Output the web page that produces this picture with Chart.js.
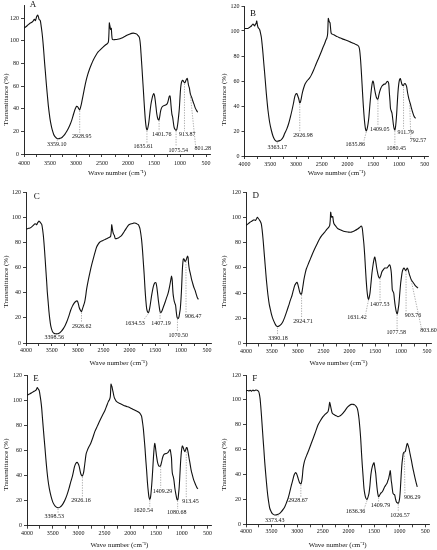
<!DOCTYPE html>
<html lang="en">
<head>
<meta charset="UTF-8">
<title>FTIR spectra A-F</title>
<script src="https://cdn.jsdelivr.net/npm/chart.js"></script>
<style>
  body { margin: 0; background: #fff; }
  #wrap { position: relative; width: 437px; height: 550px; overflow: hidden; }
  #wrap canvas { position: absolute; }
</style>
</head>
<body>
<div id="wrap"></div>
<script>
// wave numbers (cm-1) and transmittance (%)
const waveA = [4000,3950,3910,3885,3850,3830,3810,3800,3782,3768,3756,3737,3722,3712,3698,3686,3667,3653,3641,3628,3615,3603,3590,3577,3564,3548,3532,3516,3500,3478,3455,3430,3404,3375,3359,3340,3310,3276,3245,3212,3180,3148,3115,3083,3055,3026,3005,2987,2970,2955,2940,2929,2915,2897,2878,2859,2835,2808,2775,2744,2705,2667,2620,2571,2520,2474,2435,2397,2378,2368,2359,2352,2346,2339,2333,2327,2321,2312,2301,2275,2250,2200,2154,2105,2058,2010,1962,1930,1897,1865,1833,1810,1795,1782,1770,1760,1750,1740,1730,1718,1705,1692,1680,1668,1656,1645,1636,1625,1612,1598,1580,1560,1540,1520,1505,1492,1478,1463,1448,1432,1418,1404,1390,1375,1360,1345,1320,1290,1260,1240,1222,1205,1192,1182,1173,1165,1155,1141,1128,1115,1100,1085,1070,1058,1045,1030,1013,1000,988,975,962,948,930,915,904,890,875,860,848,835,821,805,790,775,755,731,705,679,660];
const transA = [111,112.8,114.5,115.4,116.3,117,118.5,119,117.7,119.5,121.4,122.6,121,119,118.3,117.7,112,107,101.8,95,87.4,80,73,65.5,58.5,50.5,42.7,36.5,31,25.5,21,17.5,15.3,14,13.5,13.5,13.8,14.4,15.8,17.6,19.8,22.5,25.8,29.7,34,38.4,40.8,42.1,41.8,40.7,39.5,39,40.8,44,48.5,52.8,58.5,64.3,70,74.4,79,83,87,90.3,92.6,94.6,96.2,97.5,98.8,105,115.7,114,112.8,110.5,110,110.8,111,105,101.2,100.9,101,101.3,101.8,102.7,103.8,105,106,106.5,106.7,106.4,105.8,104.8,104,103,100,95.5,89,82,75,66,57,47,38.5,31,25.5,22.3,21.3,22,24.5,28.5,36,43.5,48.5,52,53.4,52,48,42,36,32,30.3,30,33,37.5,40,41.5,42.5,43,43.7,45,48,51,51.3,48,43,39,35,32.4,28,24,22,21.2,21,22.5,26,32,40,50,58,62.5,64.5,65,64,63,62.9,64.5,66,66.7,64,60.5,58.5,54,51.5,50,47,44,40.5,38.3,36.8];
const peaksA = ['3359.10','2928.95','1635.61','1401.76','1075.54','913.87','801.28'];
const labelWnA = [3371,2890,1706,1352,1033,860,563];
const labelTA = [8.7,15.7,7,17.1,3.5,17.1,5];

const waveB = [4000,3960,3932,3900,3867,3835,3815,3802,3790,3775,3763,3750,3738,3720,3705,3690,3673,3657,3641,3625,3608,3592,3576,3560,3544,3512,3479,3446,3414,3390,3363,3330,3300,3285,3250,3220,3180,3142,3110,3078,3050,3025,3005,2986,2965,2948,2935,2927,2915,2900,2882,2864,2840,2819,2790,2767,2735,2703,2655,2606,2555,2509,2475,2443,2420,2400,2385,2373,2362,2353,2345,2338,2326,2314,2282,2240,2200,2150,2100,2050,2000,1950,1900,1850,1800,1780,1765,1750,1735,1718,1700,1682,1665,1650,1636,1620,1600,1585,1565,1545,1525,1508,1495,1480,1460,1440,1420,1409,1395,1375,1355,1330,1310,1285,1266,1250,1233,1215,1200,1188,1175,1165,1150,1135,1120,1105,1092,1080,1065,1050,1035,1020,1005,990,975,960,945,930,912,897,883,868,852,835,818,800,780,760,735,710,690,675];
const transB = [102,102,102,103,104,105.6,104.5,104,105.3,106,108,105,103,102,101,98.5,95,89,82,74,66,58,50,43,36.6,27,20.6,15.8,13,12,11.8,12.1,12.6,13,15,18,21.5,26,31,36.6,42,47.3,49.4,50,48,46,43.5,42.5,43,45.5,49.5,52.6,55.8,58,59.8,61,62.5,64.7,69,74,78.8,83.4,87,90,92.6,94.5,98,110,108.5,107.4,107,106.3,101,98,97.3,96.4,95.5,94.6,93.7,93,92.2,91.3,90.4,89.5,88.5,87.5,85,79,70,58,45,34,26,21.5,20,21.5,26,31,41,50,57,60,59,55,50.5,47,45.5,45.5,48,51.5,54,56,56.8,57.5,57.6,58.5,59.5,59.5,58,51,44,38,36,34,29,24,21.5,20.8,24,31,41,51,57.5,61,62,60,57.6,56.6,56.5,57.8,58,57.2,55.5,51,47.5,44.5,41.8,38.5,35,32,30.6,30.2];
const peaksB = ['3363.17','2926.98','1635.86','1409.05','1080.45','911.79','792.57'];
const labelWnB = [3363,2864,1849,1375,1052,870,630];
const labelTB = [6.6,16.8,9.6,21,6.1,19,12.2];

const waveC = [4000,3960,3923,3890,3859,3840,3826,3810,3794,3774,3760,3749,3735,3716,3700,3691,3678,3665,3652,3639,3626,3613,3600,3588,3570,3555,3540,3523,3505,3484,3460,3439,3420,3398,3370,3342,3310,3278,3245,3213,3175,3136,3100,3072,3040,3008,2990,2969,2945,2926,2905,2885,2865,2845,2826,2795,2762,2730,2698,2665,2634,2600,2569,2535,2505,2470,2440,2405,2376,2362,2350,2343,2337,2330,2318,2305,2292,2273,2245,2215,2185,2150,2120,2086,2055,2021,1990,1957,1925,1892,1860,1828,1812,1796,1780,1763,1747,1731,1715,1698,1682,1666,1650,1634,1618,1600,1584,1565,1545,1525,1505,1487,1470,1455,1440,1423,1407,1390,1370,1352,1330,1306,1285,1261,1240,1223,1200,1185,1172,1162,1155,1145,1132,1120,1107,1094,1081,1070,1054,1040,1028,1016,1005,995,984,977,968,958,948,935,925,906,890,876,865,855,840,820,800,780,755,731,705,685,665];
const transC = [90.5,91,91.4,92.3,93.5,94.3,94.8,94.5,94,95.6,96.3,97,96.4,95.4,94.5,93.5,90,85.6,79.5,72.3,64.5,56.4,48.5,40.5,32,24.6,19,14,11,8.7,7.8,7.4,7.3,7.3,7.6,8.2,9.6,11.4,13.8,16.7,21,26,29.5,31.5,33,33.4,31.5,28,25.8,25,27.5,30,32.6,37.5,43.2,50,56.4,62,67,72,76.3,78.8,80.3,81,81.6,82.3,82.9,83.6,84.2,85,89,94,93,91,88.2,86.5,85.6,83,83,83.4,84.3,85.6,87.3,89.5,91.5,93.5,94.3,94.8,95.2,95.4,94.8,94,92.8,90.9,87,81.6,74,64.4,55,43,34,27.3,24.8,24.1,25.5,29.5,34,39,43.5,46.5,48,48,44.5,39.5,34,28.9,25,24.1,25.5,27.6,30,32.8,35.5,38.2,41.5,44.8,50,53.3,50,43,39,36,33,31.5,30,25,21,19.8,19.6,21,24,27,33,40,50,57,63,66.5,67,66,64.8,65.5,67.5,69,68,63,58.5,55,51,48,44.5,42,38.5,36,34.7];
const peaksC = ['3398.56','2926.62','1634.53','1407.19','1070.50','906.47'];
const labelWnC = [3453,2923,1892,1389,1054,764];
const labelTC = [4.2,13.5,15.7,15.7,6.4,21.5];

const waveD = [4000,3961,3930,3897,3870,3845,3820,3800,3781,3760,3735,3720,3704,3688,3671,3655,3639,3623,3607,3590,3574,3550,3523,3500,3478,3445,3414,3390,3360,3317,3285,3252,3215,3175,3140,3110,3085,3059,3035,3014,2995,2975,2955,2935,2924,2910,2895,2878,2855,2834,2800,2768,2720,2671,2620,2575,2525,2478,2445,2414,2395,2381,2370,2362,2352,2343,2333,2323,2310,2298,2260,2221,2150,2091,2030,1963,1900,1834,1800,1770,1752,1737,1720,1704,1690,1675,1660,1645,1631,1617,1600,1582,1563,1540,1520,1508,1495,1480,1466,1440,1414,1395,1369,1340,1317,1295,1273,1250,1221,1205,1189,1178,1170,1157,1143,1128,1112,1095,1077,1065,1050,1041,1025,1008,992,977,960,944,928,911,900,880,865,847,825,803,770,737,705,673];
const transD = [93.5,94.8,95.8,96.7,97.4,98,97.4,98.5,99.9,99,97.5,96.5,94.8,90,83,75,67,59,51,44,38,31,26,22,19.3,16.2,14,13.5,13.9,15.4,17.5,20.7,25,30,34.5,38,42,45.8,47.6,48.5,46.5,43,40,39,39.3,42.5,46.5,51,55.5,59,62.5,65.7,70.5,75,79.3,83,86,88.2,90,91.4,92.4,93.5,98,104,101.5,100,100.5,100.6,97,94.8,92.7,90.9,89.6,88.7,88.3,88.2,89.3,90.9,92,93,91.5,86,79,70,60,50,42,37,35,36.5,40.5,48,56,63,67.5,68.5,66,62,58.4,53.5,51.8,53.5,57,58.7,59.8,59.8,59.8,61,62.4,60.5,55.8,48,42.5,41.2,40,34.5,29.3,25.5,23.5,25,29,32,40,47.9,53,57,59,59.8,58.8,57.9,58.3,59.8,58.5,55.8,53,50.5,48.5,46.5,45,43.9];
const peaksD = ['3390.18','2924.71','1631.42','1407.53','1077.58','903.76','803.60'];
const labelWnD = [3381,2897,1853,1414,1093,770,470];
const labelTD = [3.8,17.1,21,31,8.6,22,10];

const waveE = [4000,3970,3942,3910,3878,3850,3826,3812,3800,3785,3767,3755,3748,3730,3715,3700,3684,3668,3651,3635,3618,3595,3568,3535,3502,3470,3438,3398,3360,3328,3295,3264,3225,3186,3155,3122,3100,3079,3055,3030,3010,2990,2970,2950,2926,2905,2890,2876,2855,2831,2800,2766,2725,2686,2635,2585,2535,2488,2455,2424,2400,2385,2372,2362,2353,2343,2333,2320,2308,2290,2262,2200,2133,2070,2004,1940,1876,1840,1810,1790,1778,1760,1746,1730,1713,1697,1680,1665,1649,1635,1620,1605,1590,1577,1563,1550,1538,1525,1515,1505,1488,1470,1450,1430,1409,1390,1370,1350,1325,1300,1275,1255,1238,1225,1212,1200,1190,1180,1165,1150,1135,1118,1100,1087,1075,1062,1050,1035,1021,1005,990,975,957,940,925,910,898,885,874,858,841,820,796,770,744,720,699,685];
const transE = [104,104.5,105,105.8,106.7,107.3,108,109,110,109,108,106,104,99,93.4,85.5,77.5,69.5,61.6,53.5,45.7,37,29.7,23.5,19,16.5,15,14.3,14.8,16,18,20.4,24.5,29.7,34.5,39,43,47,49.5,50.4,49.5,47.5,43.5,40.5,39.6,42,46,50.5,57,60,62.8,65.5,70,74.9,79.5,84,88.2,92,95.5,98.8,100.5,103,112.8,111.5,110.7,108.5,106.7,104,102,100.5,98.8,97.3,96,95,94,92.6,91.3,90.5,89.5,88,86.8,82,77.5,70,61.6,52,43,34,27,22.5,21,23,29,36,45,54,61,65.5,64,60.5,55,50.5,48,47.3,48,51,54.5,56.5,57.2,57.5,58,59,60.3,60.5,57.5,54,45,41,39,35.5,30,25.8,22,20.5,21,25.5,31,42,52.3,60,63.5,62.5,60.3,59,60.5,62.2,62,60,57.6,53.5,49.7,44.5,40.4,36.5,33.8,31.5,29.8,29.4];
const peaksE = ['3398.53','2926.16','1620.54','1409.29','1080.68','913.45'];
const labelWnE = [3471,2953,1746,1375,1099,830];
const labelTE = [7.2,20.5,12.5,27.5,10.5,19];

const waveF = [4000,3975,3961,3940,3915,3896,3880,3863,3845,3831,3815,3798,3780,3764,3752,3738,3725,3712,3699,3683,3667,3650,3634,3617,3601,3585,3568,3552,3536,3512,3490,3465,3438,3405,3373,3340,3308,3275,3242,3210,3177,3145,3112,3085,3060,3040,3027,3010,2990,2970,2950,2928,2912,2898,2885,2862,2839,2805,2773,2730,2689,2640,2594,2545,2496,2465,2432,2410,2398,2380,2366,2356,2346,2330,2314,2290,2268,2235,2203,2170,2138,2105,2073,2040,2008,1975,1943,1910,1878,1850,1827,1810,1794,1777,1760,1745,1729,1712,1696,1680,1663,1648,1636,1620,1598,1580,1565,1550,1533,1515,1500,1485,1467,1452,1436,1420,1409,1395,1380,1369,1355,1338,1315,1291,1268,1246,1230,1213,1195,1182,1170,1163,1155,1142,1129,1112,1096,1080,1064,1045,1026,1010,998,986,970,953,940,928,912,900,889,875,862,850,838,826,816,800,785,771,745,719,695,674,655];
const transF = [107.2,107.5,107.5,107.2,107.8,107,107.5,108,107.3,107.5,107.8,108,107.6,107.2,106.6,104.5,101,95,88,78.5,69,59.5,50,41.5,34,27,21,16.5,12.9,10.5,8.8,8,7.5,7.6,8,8.8,10.2,12,14.2,17.3,21,26,31.6,35.8,39.6,41.2,41.5,40.5,38,35.3,33.2,32.4,34.5,39,45,50,53,56.5,59.7,64.5,69,74.5,79.8,83.5,86.5,88,89.2,90,90.5,94,98,96.5,94.6,91.5,89.2,88.4,87.9,87.2,86.5,87,87.9,89.4,91,93,94.6,95.7,96.4,96.4,96,94.8,93.2,90,85.2,78,69,58,47.7,38,29,24.5,21.5,20.3,20,21.5,24.9,31,38.3,43,46.3,48.5,49.5,46,41,34,27.6,23.5,22.2,23,24.2,24.9,25.5,26.2,28,30.2,31.6,33,35,37,40.5,43.1,38.5,35,33,28.5,24.9,24,23.6,20.5,18.2,17.3,16.9,18.5,21.5,27.6,39,49,53.5,57,58,58.2,58.4,61,63.5,65,64,62.5,61,57.5,54.5,51.7,46,41,36.5,33,30];
const peaksF = ['3373.43','2928.67','1636.36','1409.79','1026.57','906.29'];
const labelWnF = [3439,2984,1860,1373,993,755];
const labelTF = [3.5,19,10,15,7,22];

const xTicks = [4000,3750,3500,3250,3000,2750,2500,2250,2000,1750,1500,1250,1000,750,500];
const yTicks = [0,20,40,60,80,100,120];

// where each panel sits on the page (pixels)
const panels = [
  { name: 'A', wave: waveA, trans: transA, peaks: peaksA, lx: labelWnA, ly: labelTA,
    left: 0, top: 0, w: 218, h: 186, x0: 24, ppu: 0.052, areaTop: 3.4, bottom: 154, yMax: 131, tickPad: 2.5, titleY: 173.3, letter: [33, 5] },
  { name: 'B', wave: waveB, trans: transB, peaks: peaksB, lx: labelWnB, ly: labelTB,
    left: 218, top: 0, w: 219, h: 186, x0: 26.5, ppu: 0.0515, areaTop: 6, bottom: 156, yMax: 120, tickPad: 1.5, titleY: 173.3, letter: [35, 13.3] },
  { name: 'C', wave: waveC, trans: transC, peaks: peaksC, lx: labelWnC, ly: labelTC,
    left: 0, top: 182, w: 218, h: 186, x0: 26, ppu: 0.0517, areaTop: 10, bottom: 161, yMax: 120, tickPad: 1, titleY: 181.2, letter: [36.7, 15] },
  { name: 'D', wave: waveD, trans: transD, peaks: peaksD, lx: labelWnD, ly: labelTD,
    left: 218, top: 182, w: 219, h: 186, x0: 28, ppu: 0.0517, areaTop: 10, bottom: 161.5, yMax: 120, tickPad: 1, titleY: 181.2, letter: [37.7, 13.3] },
  { name: 'E', wave: waveE, trans: transE, peaks: peaksE, lx: labelWnE, ly: labelTE,
    left: 0, top: 365, w: 218, h: 188, x0: 27, ppu: 0.0516, areaTop: 10, bottom: 160.7, yMax: 120, tickPad: 1, titleY: 180.6, letter: [36, 14] },
  { name: 'F', wave: waveF, trans: transF, peaks: peaksF, lx: labelWnF, ly: labelTF,
    left: 218, top: 365, w: 219, h: 188, x0: 28, ppu: 0.0512, areaTop: 10, bottom: 159.3, yMax: 120, tickPad: 1, titleY: 180.6, letter: [36.7, 13.3] }
];

const serif = '"Liberation Serif", "Times New Roman", serif';
const ink = '#111';

function curveAt(wave, trans, wn) {
  for (let i = 0; i < wave.length - 1; i++) {
    if (wave[i] >= wn && wn >= wave[i + 1]) {
      const f = (wave[i] - wn) / (wave[i] - wave[i + 1]);
      return trans[i] + f * (trans[i + 1] - trans[i]);
    }
  }
  return trans[trans.length - 1];
}

// peak labels with dashed leaders, panel letter and the y title
const annotate = {
  id: 'annotate',
  afterDatasetsDraw(chart, args, opts) {
    const p = opts.panel;
    const { ctx } = chart;
    const x = chart.scales.x, y = chart.scales.y;
    ctx.save();
    ctx.font = '6px ' + serif;
    ctx.textAlign = 'center';
    ctx.textBaseline = 'middle';
    p.peaks.forEach((txt, i) => {
      const wn = parseFloat(txt);
      const sx = x.getPixelForValue(wn);
      const sy = y.getPixelForValue(curveAt(p.wave, p.trans, wn)) + 1;
      const tx = x.getPixelForValue(p.lx[i]);
      const ty = y.getPixelForValue(p.ly[i]);
      const half = ctx.measureText(txt).width / 2;
      const ex = Math.min(Math.max(sx, tx - half + 1), tx + half - 1);
      const ey = ty - 3.5;
      if (ey > sy) {
        ctx.strokeStyle = '#777';
        ctx.lineWidth = 0.6;
        ctx.setLineDash([1.3, 1.3]);
        ctx.beginPath();
        ctx.moveTo(sx, sy);
        ctx.lineTo(ex, ey);
        ctx.stroke();
      }
      ctx.fillStyle = ink;
      ctx.fillText(txt, tx, ty);
    });
    ctx.font = '9px ' + serif;
    ctx.fillText(p.name, p.letter[0], p.letter[1]);
    ctx.font = '7px ' + serif;
    ctx.translate(6.5, 99.5);
    ctx.rotate(-Math.PI / 2);
    ctx.fillText('Transmittance (%)', 0, 0);
    ctx.restore();
  }
};

const wrap = document.getElementById('wrap');
panels.forEach(p => {
  const cv = document.createElement('canvas');
  cv.width = p.w;
  cv.height = p.h;
  cv.style.left = p.left + 'px';
  cv.style.top = p.top + 'px';
  cv.style.width = p.w + 'px';
  cv.style.height = p.h + 'px';
  wrap.appendChild(cv);

  const x1 = p.x0 + (4000 - 420) * p.ppu;
  const titlePad = p.h - p.titleY - 4.2;
  const axisGrid = { display: true, drawOnChartArea: false, drawTicks: true, tickLength: 3, color: ink, lineWidth: 0.8 };

  new Chart(cv, {
    type: 'line',
    data: {
      datasets: [{
        data: p.wave.map((w, i) => ({ x: w, y: p.trans[i] })),
        borderColor: ink,
        borderWidth: 1.1,
        pointRadius: 0,
        tension: 0.3,
        fill: false
      }]
    },
    options: {
      responsive: false,
      animation: false,
      layout: { autoPadding: false, padding: { top: p.areaTop, right: p.w - x1, left: 0, bottom: 0 } },
      plugins: {
        legend: { display: false },
        tooltip: { enabled: false },
        annotate: { panel: p }
      },
      scales: {
        x: {
          type: 'linear',
          reverse: true,
          min: 420,
          max: 4000,
          afterBuildTicks: s => { s.ticks = xTicks.map(v => ({ value: v })); },
          afterFit: s => { s.height = p.h - p.bottom; },
          ticks: {
            autoSkip: false, maxRotation: 0, padding: p.tickPad, color: ink,
            font: { family: serif, size: 6 },
            callback: v => (v % 500 === 0 ? String(v) : '')
          },
          grid: axisGrid,
          border: { display: true, color: ink, width: 0.9 },
          title: {
            display: true, text: 'Wave number (cm⁻¹)', color: ink,
            font: { family: serif, size: 7 },
            padding: { top: 0, bottom: titlePad }
          }
        },
        y: {
          min: 0,
          max: p.yMax,
          afterBuildTicks: s => { s.ticks = yTicks.map(v => ({ value: v })); },
          afterFit: s => { s.width = p.x0; },
          ticks: { autoSkip: false, padding: 2, color: ink, font: { family: serif, size: 6 } },
          grid: axisGrid,
          border: { display: true, color: ink, width: 0.9 }
        }
      }
    },
    plugins: [annotate]
  });
});
</script>
</body>
</html>
